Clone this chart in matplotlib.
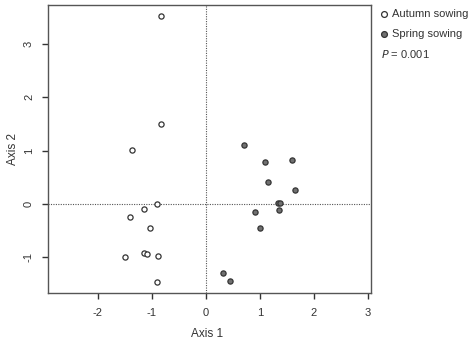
import matplotlib
matplotlib.use("Agg")
import matplotlib.pyplot as plt
from matplotlib.lines import Line2D

plt.rcParams['font.family'] = ['Liberation Sans', 'DejaVu Sans']

# ordination scores
autumn_x = [-0.83, -0.82, -1.37, -0.90, -1.15, -1.41, -1.03, -1.50, -1.15, -1.08, -0.89, -0.91]
autumn_y = [3.53, 1.50, 1.02, 0.00, -0.09, -0.24, -0.46, -0.99, -0.92, -0.94, -0.97, -1.47]
spring_x = [0.70, 1.10, 1.60, 1.16, 1.66, 1.34, 1.37, 1.36, 0.92, 1.01, 0.32, 0.45]
spring_y = [1.11, 0.78, 0.83, 0.42, 0.27, 0.02, 0.01, -0.11, -0.16, -0.46, -1.29, -1.44]
xticks = [-2, -1, 0, 1, 2, 3]
yticks = [-1, 0, 1, 2, 3]
p_value = 0.001

W, H = 474, 341
fig = plt.figure(figsize=(W / 100, H / 100), dpi=100)
ax = fig.add_axes([0.101, 0.141, 0.682, 0.844])

edge = '#333333'
fill_spring = '#707070'
ax.scatter(autumn_x, autumn_y, s=14, facecolors='white', edgecolors=edge, linewidths=0.9, zorder=3)
ax.scatter(spring_x, spring_y, s=14, facecolors=fill_spring, edgecolors=edge, linewidths=0.9, zorder=3)

ax.axhline(0, color='#555555', lw=0.8, ls=(0, (1, 1.2)), zorder=1)
ax.axvline(0, color='#555555', lw=0.8, ls=(0, (1, 1.2)), zorder=1)

ax.set_xlim(-2.92, 3.06)
ax.set_ylim(-1.67, 3.73)
ax.set_xticks(xticks)
ax.set_yticks(yticks)
ax.set_xticklabels([str(t) for t in xticks])
ax.set_yticklabels([str(t) for t in yticks], rotation=90, va='center')

for s in ax.spines.values():
    s.set_color('#555555')
    s.set_linewidth(1.0)
ax.tick_params(direction='out', length=4, width=1.0, color='#333333',
               labelsize=8, labelcolor='#333333')
ax.tick_params(axis='x', pad=7)
ax.tick_params(axis='y', pad=6)

ax.set_xlabel('Axis 1', fontsize=8.5, color='#333333')
ax.set_ylabel('Axis 2', fontsize=8.5, color='#333333')
ax.xaxis.set_label_coords((207 - 48) / 323, -(334 - 293) / 288, transform=ax.transAxes)
ax.yaxis.set_label_coords(-(48 - 13) / 323, 0.5, transform=ax.transAxes)
ax.xaxis.label.set_va('center')
ax.yaxis.label.set_va('center')

# key outside the plot region (pixel positions converted to figure fractions)
def fx(px):
    return px / W

def fy(py):
    return 1 - py / H

key = [('Autumn sowing', 'white', 14), ('Spring sowing', fill_spring, 34)]
for label, fc, py in key:
    fig.add_artist(Line2D([fx(384)], [fy(py)], ls='none', marker='o', markersize=4.2,
                          markerfacecolor=fc, markeredgecolor=edge, markeredgewidth=0.9,
                          transform=fig.transFigure))
    fig.text(fx(392), fy(py), label, fontsize=8, color='#333333', va='center', ha='left')
fig.text(fx(381), fy(54), '$P$ = ' + str(p_value), fontsize=8, color='#333333',
         va='center', ha='left')

fig.savefig('out.png', dpi=100)
